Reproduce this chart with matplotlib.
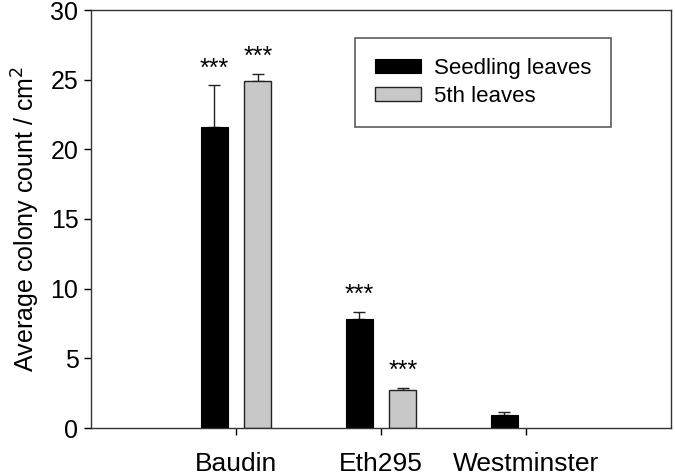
import matplotlib
matplotlib.use("Agg")
import matplotlib.pyplot as plt
import numpy as np

plt.rcParams['font.family'] = ['Liberation Sans', 'DejaVu Sans']

categories = ["Baudin", "Eth295", "Westminster"]
seedling = [21.6, 7.8, 0.9]
seedling_err = [3.0, 0.55, 0.28]
fifth = [24.9, 2.7, 0.0]
fifth_err = [0.5, 0.17, 0.0]
seedling_sig = ["***", "***", ""]
fifth_sig = ["***", "***", ""]
yticks = [0, 5, 10, 15, 20, 25, 30]

fig = plt.figure(figsize=(6.75, 4.76), dpi=100)
ax = fig.add_axes([91/675, 48/476, 580/675, 418/476])

x = np.arange(1, len(categories) + 1)
w = 0.185
off = 0.15

ax.bar(x - off, seedling, w, color='black', edgecolor='black', linewidth=0.8,
       label='Seedling leaves', zorder=2)
ax.bar(x[:2] + off, fifth[:2], w, color='#c8c8c8', edgecolor='#222222', linewidth=1,
       label='5th leaves', zorder=2)
ax.errorbar(x - off, seedling, yerr=[np.zeros(3), seedling_err], fmt='none',
            ecolor='#222222', elinewidth=1, capsize=4.5, capthick=1, zorder=1)
ax.errorbar(x[:2] + off, fifth[:2], yerr=[np.zeros(2), fifth_err[:2]], fmt='none',
            ecolor='#222222', elinewidth=1, capsize=4.5, capthick=1, zorder=1)

for xi, v, e, s in zip(x - off, seedling, seedling_err, seedling_sig):
    if s:
        ax.text(xi, v + e + 0.35, s, ha='center', va='bottom', fontsize=18)
for xi, v, e, s in zip(x + off, fifth, fifth_err, fifth_sig):
    if s:
        ax.text(xi, v + e + 0.35, s, ha='center', va='bottom', fontsize=18)

ax.set_xlim(0, 4)
ax.set_ylim(0, 30)
ax.set_yticks(yticks)
ax.set_xticks(x)
ax.set_xticklabels(categories, fontsize=19)
ax.tick_params(axis='y', labelsize=18, length=5, width=1, direction='out', pad=4)
ax.tick_params(axis='x', length=5, width=1, direction='out', pad=12)
ax.set_ylabel('Average colony count / cm$^2$', fontsize=18, labelpad=6)
for sp in ax.spines.values():
    sp.set_linewidth(1)
    sp.set_color('#333333')

leg = ax.legend(loc='upper right', bbox_to_anchor=(0.8966, 0.933), fontsize=16,
                frameon=True, fancybox=False, edgecolor='#333333',
                handlelength=2.1, handleheight=0.55, borderpad=0.9, labelspacing=0.3,
                handletextpad=0.55, borderaxespad=0)
leg.get_frame().set_linewidth(1.2)

fig.savefig('out.png', dpi=100)
